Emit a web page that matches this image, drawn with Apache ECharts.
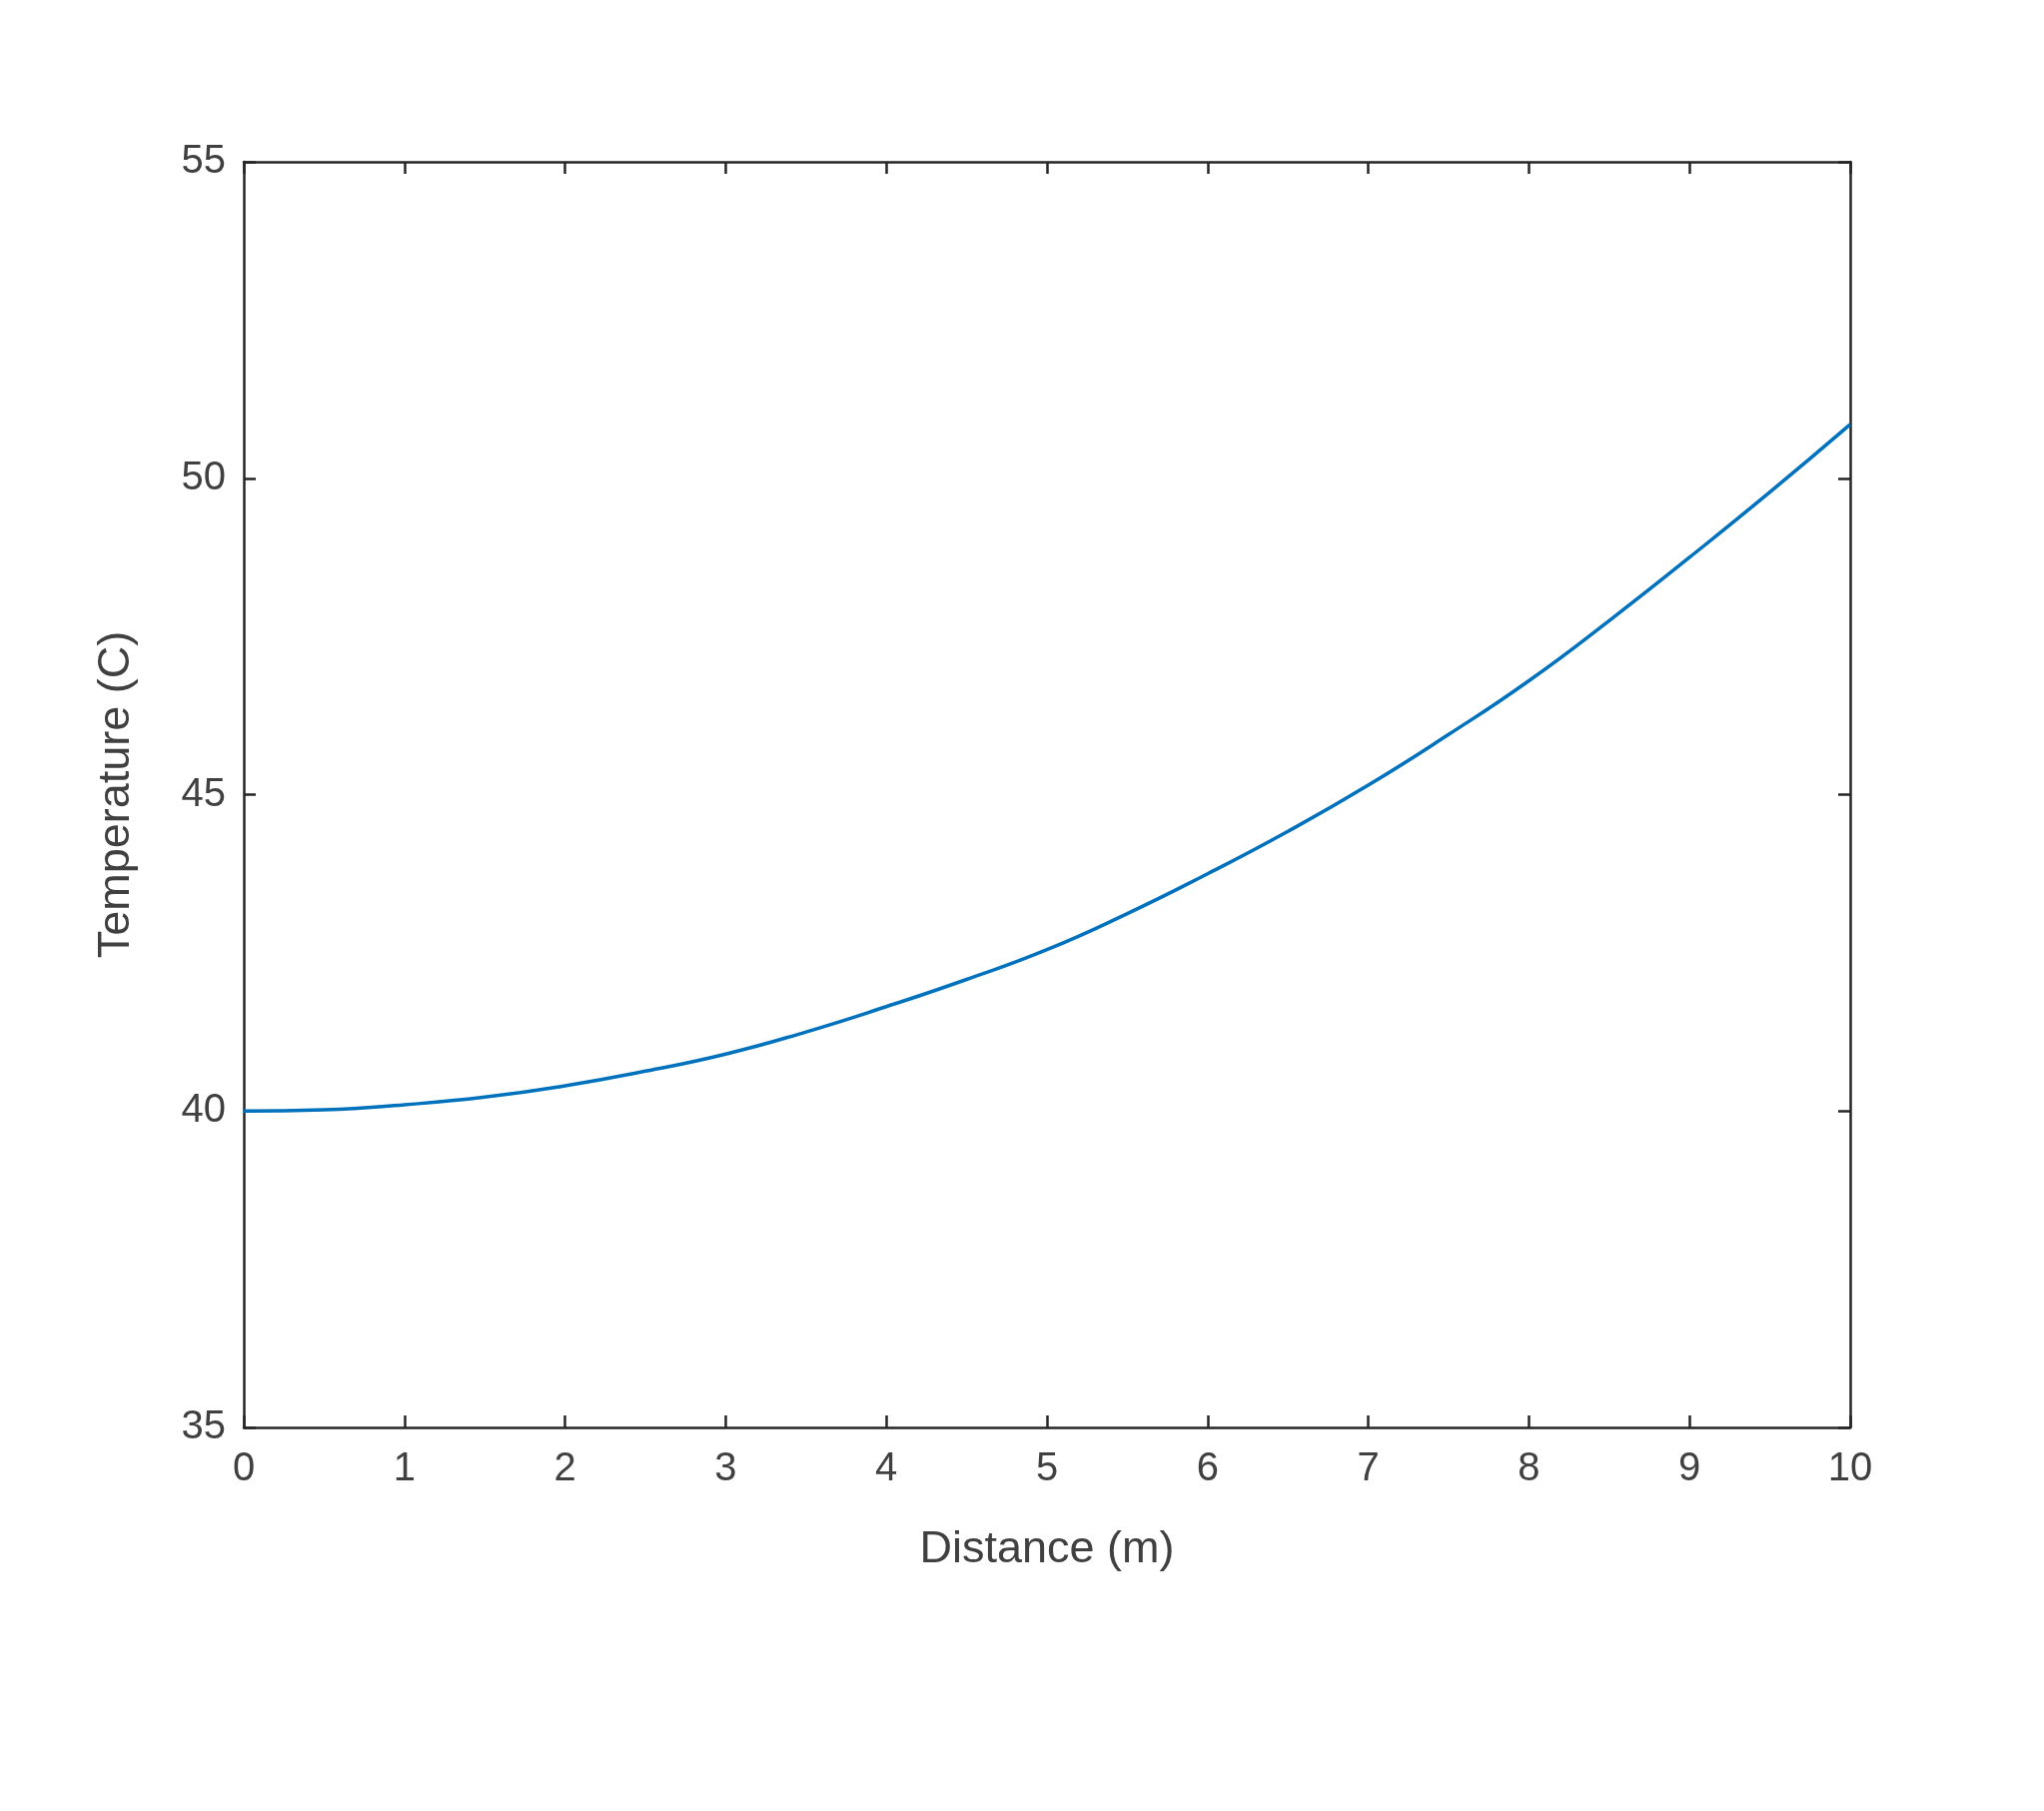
<!DOCTYPE html>
<html>
<head>
<meta charset="utf-8">
<script src="https://cdn.jsdelivr.net/npm/echarts@6/dist/echarts.min.js"></script>
<style>html,body{margin:0;background:#fff}#chart{width:2046px;height:1813px}</style>
</head>
<body>
<div id="chart"></div>
<script>
// values
const distance = [0, 0.5, 1, 1.5, 2, 2.5, 3, 3.5, 4, 4.5, 5, 5.5, 6, 6.5, 7, 7.5, 8, 8.5, 9, 9.5, 10];
const temperature = [40.0, 40.02, 40.1, 40.22, 40.4, 40.63, 40.9, 41.25, 41.65, 42.08, 42.55, 43.12, 43.75, 44.42, 45.15, 45.95, 46.8, 47.75, 48.75, 49.78, 50.85];

const axisLine = { show: true, onZero: false, lineStyle: { color: "#262626", width: 2.5 } };
const tick = { show: true, inside: true, length: 12, lineStyle: { color: "#262626", width: 2.5 } };
const font = "Liberation Sans, Arial";
const label = { color: "#404040", fontSize: 40, fontFamily: font };
const nameStyle = { color: "#404040", fontSize: 45, fontFamily: font };

const chart = echarts.init(document.getElementById("chart"));
chart.setOption({
  animation: false,
  grid: { left: 244, right: 194, top: 162, bottom: 384 },
  xAxis: [
    { type: "value", min: 0, max: 10, interval: 1, position: "bottom",
      name: "Distance (m)", nameLocation: "middle", nameGap: 100, nameTextStyle: nameStyle,
      axisLine, axisTick: tick, axisLabel: { ...label, margin: 22 }, splitLine: { show: false } },
    { type: "value", min: 0, max: 10, interval: 1, position: "top",
      axisLine, axisTick: tick, axisLabel: { show: false }, splitLine: { show: false } }
  ],
  yAxis: [
    { type: "value", min: 35, max: 55, interval: 5, position: "left",
      name: "Temperature (C)", nameLocation: "middle", nameGap: 105, nameRotate: 90, nameTextStyle: nameStyle,
      axisLine, axisTick: tick, axisLabel: { ...label, margin: 18 }, splitLine: { show: false } },
    { type: "value", min: 35, max: 55, interval: 5, position: "right",
      axisLine, axisTick: tick, axisLabel: { show: false }, splitLine: { show: false } }
  ],
  series: [{
    type: "line",
    data: distance.map((d, i) => [d, temperature[i]]),
    smooth: true,
    showSymbol: false,
    lineStyle: { color: "#0072BD", width: 3.5 }
  }]
});
</script>
</body>
</html>
